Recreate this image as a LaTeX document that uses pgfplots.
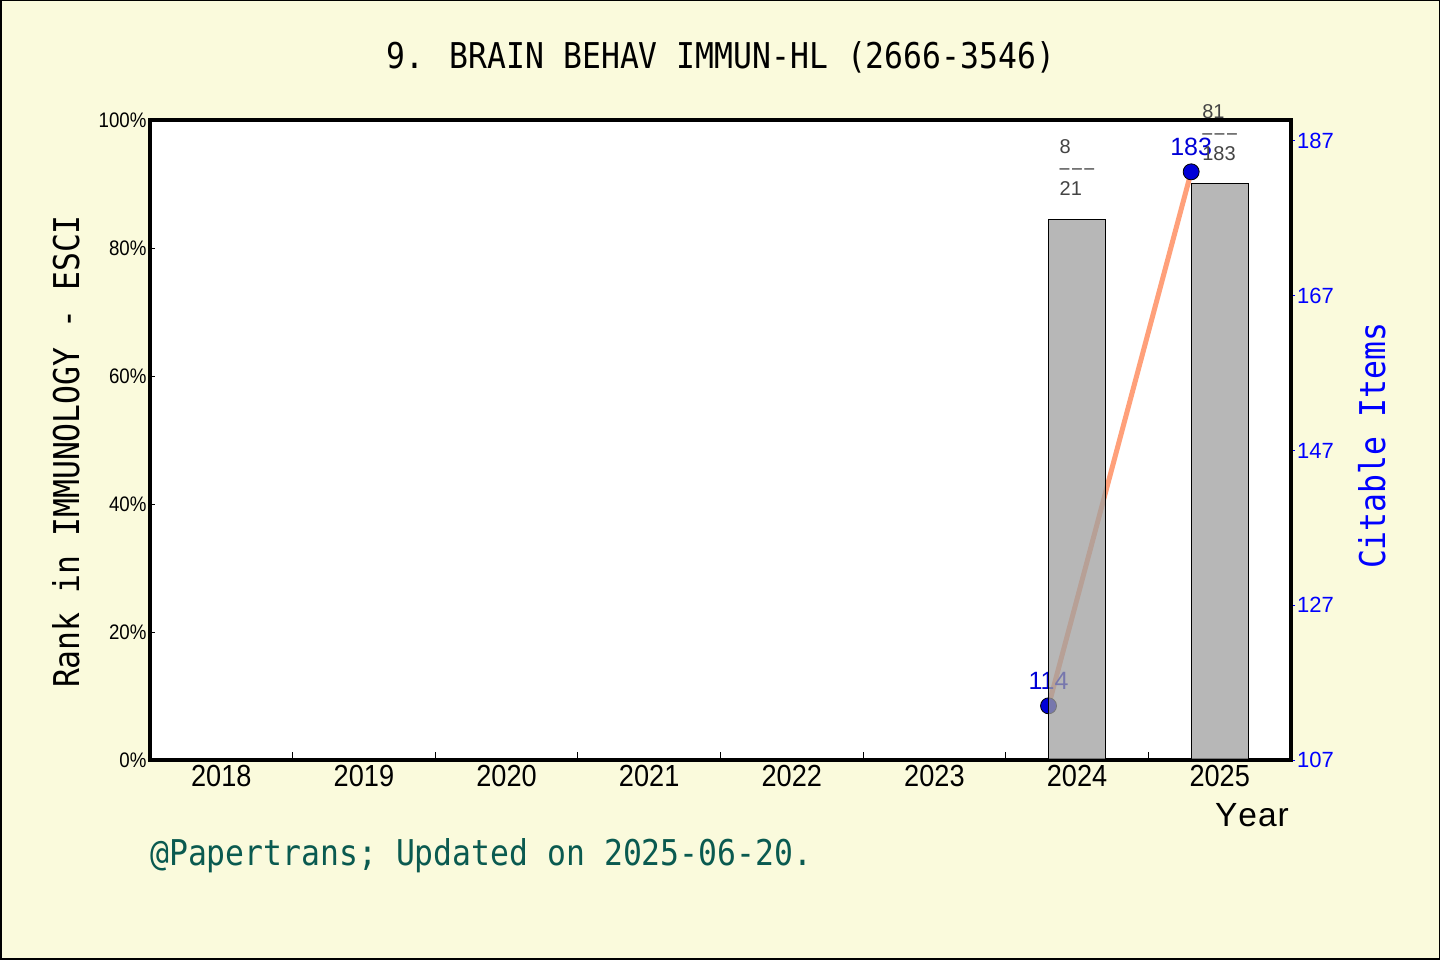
\documentclass[border=0pt]{standalone}
\usepackage{pgfplots}
\pgfplotsset{compat=1.18}
\usepackage{fontspec}
\setmainfont{Liberation Sans}
\newfontfamily\mono[FakeStretch=0.885]{DejaVu Sans Mono}
\newfontfamily\cond[FakeStretch=0.89]{Liberation Sans}
\definecolor{bgc}{RGB}{250,250,220}
\definecolor{barc}{RGB}{160,160,160}
\definecolor{linec}{RGB}{255,160,122}
\definecolor{ptblue}{RGB}{0,0,215}
\definecolor{labgray}{RGB}{68,68,68}
\definecolor{footc}{RGB}{10,90,80}
\newcommand\dashes{{\cond\textendash\kern2.5pt\textendash\kern2.5pt\textendash}}
\newcommand\bla{8\\\dashes\\21}
\newcommand\blb{81\\\dashes\\183}
\begin{document}
\begin{tikzpicture}
\useasboundingbox (0,0) rectangle (1440pt,960pt);
\fill[bgc] (0,0) rectangle (1440pt,960pt);
\draw[black, line width=1.5pt] (0.75pt,0.75pt) rectangle (1439.25pt,959.25pt);
% right axis: citable items line
\begin{axis}[
  at={(150pt,200pt)}, anchor=south west,
  scale only axis, width=1141pt, height=640pt,
  xmin=-0.5, xmax=7.5, ymin=107, ymax=189.7,
  axis background/.style={fill=white},
  axis x line=none,
  axis y line*=right,
  xtick=\empty,
  ytick={107,127,147,167,187},
  tick align=outside, major tick length=4pt,
  ytick style={blue, line width=0.8pt},
  yticklabel style={font=\fontsize{22}{22}\selectfont, text=blue, inner sep=2pt},
  /pgf/number format/assume math mode=true,
  clip=false,
]
\addplot[linec, line width=5pt, mark=*, mark size=8pt,
  mark options={fill=ptblue, draw=black, line width=0.8pt},
  point meta=explicit symbolic, nodes near coords,
  every node near coord/.append style={font=\fontsize{25}{25}\selectfont, text=ptblue, anchor=south, inner sep=0pt, yshift=16pt}]
  coordinates {(5.8,114) [114] (6.8,183) [183]};
\end{axis}
% left axis: rank bars
\begin{axis}[
  at={(150pt,200pt)}, anchor=south west,
  scale only axis, width=1141pt, height=640pt,
  xmin=-0.5, xmax=7.5, ymin=0, ymax=100,
  axis line style={line width=3.5pt},
  xtick={0,1,2,3,4,5,6,7},
  xticklabels={2018,2019,2020,2021,2022,2023,2024,2025},
  xtick pos=bottom, ytick pos=left,
  major x tick style={draw=none},
  minor xtick={0.5,1.5,2.5,3.5,4.5,5.5,6.5},
  minor tick length=8pt,
  minor x tick style={black, line width=0.8pt},
  tick align=inside,
  major tick length=5pt,
  ytick={0,20,40,60,80,100},
  ytick style={black, line width=0.8pt},
  yticklabel={\pgfmathprintnumber{\tick}\%},
  yticklabel style={font=\cond\fontsize{21}{21}\selectfont},
  xticklabel style={font=\cond\fontsize{30.5}{30.5}\selectfont, anchor=north, inner sep=0pt, yshift=-5pt},
  /pgf/number format/assume math mode=true,
  clip=false,
]
\addplot[ybar, bar width=0.4, draw=black, line width=1pt, fill=barc, fill opacity=0.75,
  point meta=explicit symbolic,
  nodes near coords={\csname bl\pgfplotspointmeta\endcsname},
  every node near coord/.append style={align=left, font=\fontsize{20}{21}\selectfont, text=labgray,
    fill opacity=1, text opacity=1, anchor=south, inner sep=0pt, yshift=23pt}]
  coordinates {(6,84.5) [a] (7,90) [b]};
\end{axis}
\node[font=\mono\fontsize{35.5}{36}\selectfont, anchor=base, inner sep=0pt] at (721pt,891pt) {9. BRAIN BEHAV IMMUN-HL (2666-3546)};
\node[font=\mono\fontsize{35.5}{36}\selectfont, anchor=base, inner sep=0pt, rotate=90] at (79pt,508.5pt) {Rank in IMMUNOLOGY - ESCI};
\node[font=\mono\fontsize{35.5}{36}\selectfont, anchor=base, inner sep=0pt, rotate=90, text=blue] at (1385pt,514pt) {Citable Items};
\node[font=\mono\fontsize{35.5}{36}\selectfont, anchor=base west, inner sep=0pt, text=footc] at (150pt,94pt) {@Papertrans; Updated on 2025-06-20.};
\node[font=\fontsize{33.5}{34}\selectfont, anchor=base east, inner sep=0pt] at (1289pt,133pt) {Y\kern1pt e\kern1pt a\kern1pt r};
\end{tikzpicture}
\end{document}
